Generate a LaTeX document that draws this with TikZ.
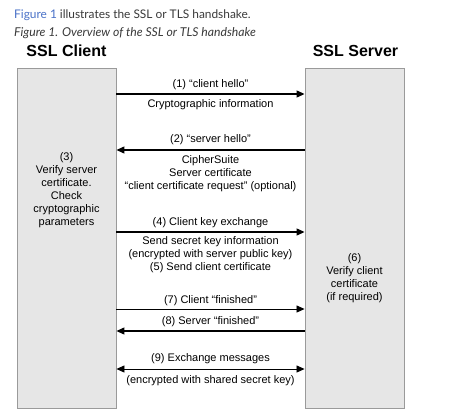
\documentclass[tikz,border=0pt]{standalone}
\usepackage{fontspec}
\setmainfont{Liberation Sans}
\newfontfamily\webfont{Lato}
\usetikzlibrary{arrows.meta}
\definecolor{boxfill}{HTML}{E6E6E6}
\definecolor{boxline}{HTML}{9A9A9A}
\definecolor{linkblue}{HTML}{4A72C8}
\definecolor{bodygrey}{HTML}{3A3A3A}
\tikzset{
  party/.style={draw=boxline, fill=boxfill, line width=0.9pt},
  msg/.style={font=\fontsize{11}{13}\selectfont, inner sep=0pt, align=center},
  boxtext/.style={font=\fontsize{11}{13}\selectfont, inner sep=0pt, align=center},
  heavy/.style={line width=1.3pt, -{Triangle[length=8pt,width=7pt]}},
  light/.style={line width=0.8pt, -{Triangle[length=8pt,width=7pt]}},
  both/.style={line width=0.8pt, {Triangle[length=8pt,width=7pt]}-{Triangle[length=8pt,width=7pt]}},
  title/.style={font=\bfseries\fontsize{16}{18}\selectfont, inner sep=0pt},
  web/.style={font=\webfont\fontsize{11.9}{13}\selectfont, inner sep=0pt, anchor=west, text=bodygrey}
}
\begin{document}
\begin{tikzpicture}[x=1pt,y=-1pt]
\fill[white] (0,0) rectangle (474,420);
\useasboundingbox (0,0) rectangle (474,420);

\node[web] (intro) at (14,15) {\textcolor{linkblue}{Figure 1} illustrates the SSL or TLS handshake.};
\node[web, font=\webfont\itshape\fontsize{12.2}{13}\selectfont] (caption) at (14,33) {Figure 1. Overview of the SSL or TLS handshake};

\node[title] (ctitle) at (66.5,51) {SSL Client};
\node[title] (stitle) at (355.5,51) {SSL Server};

\node[party, minimum width=99pt, minimum height=340pt, inner sep=0pt] (client) at (66.5,238) {};
\node[party, minimum width=99pt, minimum height=340pt, inner sep=0pt] (server) at (354.5,238) {};

\node[boxtext] (verifys) at (66.5,190) {(3)\\Verify server\\certificate.\\Check\\cryptographic\\parameters};
\node[boxtext] (verifyc) at (354.5,278) {(6)\\Verify client\\certificate\\(if required)};

% coordinates on box edges
\foreach \n/\y in {a/94,b/150,c/232,d/309,e/331,f/369}{
  \coordinate (c\n) at (client.east |- 0,\y);
  \coordinate (s\n) at (server.west |- 0,\y);
}

\draw[heavy] (ca) -- (sa);
\draw[heavy] (sb) -- (cb);
\draw[heavy] (cc) -- (sc);
\draw[light] (cd) -- (sd);
\draw[heavy] (se) -- (ce);
\draw[both] (cf) -- (sf);

\node[msg] (m1) at (210.5,85) {(1) “client hello”};
\node[msg] (m1b) at (210.5,105) {Cryptographic information};
\node[msg] (m2) at (210.5,140) {(2) “server hello”};
\node[msg] (m2b) at (210.5,173.5) {CipherSuite\\Server certificate\\“client certificate request” (optional)};
\node[msg] (m4) at (210.5,223) {(4) Client key exchange};
\node[msg] (m4b) at (210.5,254.5) {Send secret key information\\(encrypted with server public key)\\(5) Send client certificate};
\node[msg] (m7) at (210.5,301) {(7) Client “finished”};
\node[msg] (m8) at (210.5,322) {(8) Server “finished”};
\node[msg] (m9) at (210.5,359) {(9) Exchange messages};
\node[msg] (m9b) at (210.5,381) {(encrypted with shared secret key)};
\end{tikzpicture}
\end{document}
